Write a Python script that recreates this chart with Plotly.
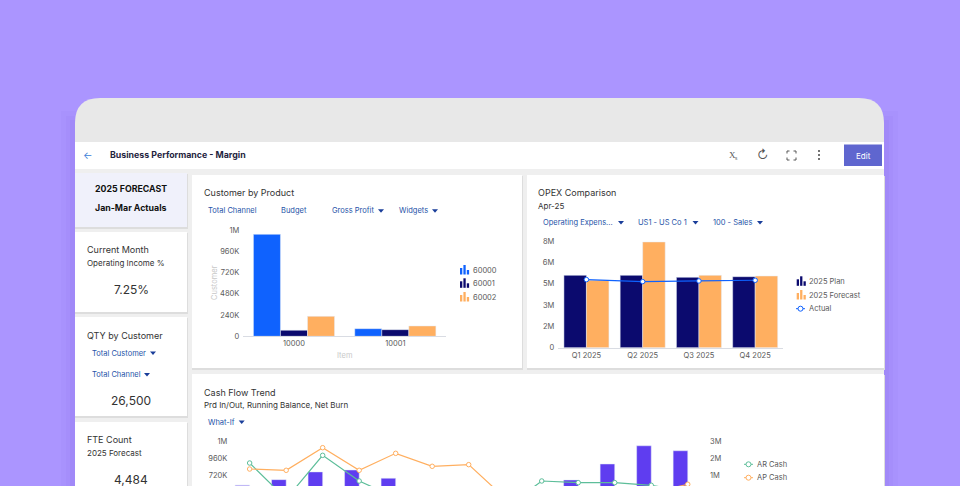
import plotly.graph_objects as go

W = 960
H = 486

# Customer by Product
items = ["10000", "10001"]
product_60000 = [1151000, 86000]
product_60001 = [68000, 75000]
product_60002 = [225000, 117000]
product_ticks = [0, 240000, 480000, 720000, 960000, 1200000]
product_ticktext = ["0", "240K", "480K", "720K", "960K", "1M"]

# OPEX Comparison
quarters = ["Q1 2025", "Q2 2025", "Q3 2025", "Q4 2025"]
plan_2025 = [5.44e6, 5.44e6, 5.29e6, 5.34e6]
forecast_2025 = [5.07e6, 7.95e6, 5.44e6, 5.39e6]
actual = [5.12e6, 4.97e6, 5.02e6, 5.07e6]
opex_ticks = [0, 1.6e6, 3.2e6, 4.8e6, 6.4e6, 8e6]
opex_ticktext = ["0", "2M", "3M", "5M", "6M", "8M"]

# Cash Flow Trend (the card is cut off by the bottom of the picture)
months = ["Jan", "Feb", "Mar", "Apr", "May", "Jun", "Jul", "Aug", "Sep", "Oct", "Nov", "Dec", "Jan+1"]
ar_cash = [897000, 395000, 1004000, 646000, 414000, 300000, 280000, 265000, 646000, 623000, 623000, 586000, 497000]
ap_cash = [813000, 795000, 1111000, 795000, 1032000, 851000, 874000, 405000, 380000, 360000, 420000, 480000, 600000]
net_flow = [0.46e6, 0.77e6, 1.22e6, 1.33e6, 0.85e6, 0.3e6, 0.3e6, 0.3e6, 0.3e6, 0.75e6, 1.68e6, 2.74e6, 2.45e6]
cash_left_ticks = [720000, 960000, 1200000]
cash_left_ticktext = ["720K", "960K", "1M"]
cash_right_ticks = [1e6, 2e6, 3e6]
cash_right_ticktext = ["1M", "2M", "3M"]

BLUE = "#0F62FE"
NAVY = "#0B0A6E"
ORANGE = "#FFAF60"
GREEN = "#5DBE9A"
PURPLE = "#5F3DF0"
LAVENDER = "#B7A9F6"
LINK = "#2553A8"
DARK = "#333333"
TICK = "#5A5A5A"
AXIS = "#D9DCE3"


def fx(x):
    return x / W


def fy(y):
    return 1 - y / H


shapes = []
annotations = []


def rect(x0, y0, x1, y1, color):
    shapes.append(dict(type="rect", xref="paper", yref="paper", x0=fx(x0), x1=fx(x1), y0=fy(y0), y1=fy(y1),
                       fillcolor=color, line_width=0, layer="below"))


def card(x0, y0, x1, y1, color="#FFFFFF"):
    # soft shadow under the card
    rect(x0, y0 + 1, x1 + 1, y1 + 2, "#DDDDDD")
    rect(x0, y0, x1, y1, color)


def text(x, y, s, size=10, color=DARK, anchor="left", bold=False, angle=0, family="Inter", **kw):
    if anchor == "left":
        x -= 1
    annotations.append(dict(x=fx(x), y=fy(y), xref="paper", yref="paper", text=s, showarrow=False,
                            xanchor=anchor, yanchor="middle", textangle=angle, borderpad=0,
                            font=dict(family=family, size=size, color=color, weight=700 if bold else 400), **kw))


def tri(x, y):
    path = f"M {fx(x - 3)} {fy(y - 1.5)} L {fx(x + 3)} {fy(y - 1.5)} L {fx(x)} {fy(y + 2)} Z"
    shapes.append(dict(type="path", xref="paper", yref="paper", path=path, fillcolor="#1A3E9A", line_width=0))


def link(x, y, s, tri_x=None):
    text(x, y, s, size=7.5, color=LINK)
    if tri_x:
        tri(tri_x, y)


def bar_icon(x, y, color):
    for dx, top in [(0, -2), (3.4, -5), (6.8, 0)]:
        shapes.append(dict(type="rect", xref="paper", yref="paper", x0=fx(x + dx), x1=fx(x + dx + 2.3),
                           y0=fy(y + 4.5), y1=fy(y + top), fillcolor=color, line_width=0))


def line_icon(x, y, color):
    shapes.append(dict(type="line", xref="paper", yref="paper", x0=fx(x), x1=fx(x + 9), y0=fy(y), y1=fy(y),
                       line=dict(color=color, width=1)))
    shapes.append(dict(type="circle", xref="paper", yref="paper", x0=fx(x + 2), x1=fx(x + 7), y0=fy(y + 2.5),
                       y1=fy(y - 2.5), fillcolor="white", line=dict(color=color, width=1)))


# page frame
r = 25
for grow, tone in [(14, "rgba(90,60,200,0.03)"), (9, "rgba(90,60,200,0.04)"), (5, "rgba(90,60,200,0.05)")]:
    rect(75 - grow, 125 - grow, 884 + grow, H, tone)
window = (f"M {fx(75)} {fy(H)} L {fx(75)} {fy(98 + r)} Q {fx(75)} {fy(98)} {fx(75 + r)} {fy(98)} "
          f"L {fx(884 - r)} {fy(98)} Q {fx(884)} {fy(98)} {fx(884)} {fy(98 + r)} L {fx(884)} {fy(H)} Z")
shapes.append(dict(type="path", xref="paper", yref="paper", path=window, fillcolor="#E8E8E8", line_width=0, layer="below"))
rect(75, 142, 884, 169, "#FFFFFF")
rect(75, 169, 884, H, "#EFEFEF")

card(75, 173, 187, 227, "#F0F1FB")
card(75, 232, 187, 312)
card(75, 317, 187, 416)
card(75, 422, 187, H)
card(192, 175, 522, 368)
card(527, 175, 884, 368)
card(192, 374, 884, H)

# top bar
text(88, 155, "←", size=10, color="#3B7DD8", anchor="center")
text(110, 155, "Business Performance - Margin", size=8.8, color="#1F2440", bold=True)
text(732, 154.5, "X", size=9, color="#555555", anchor="center", family="Liberation Serif")
text(736.5, 157.5, "s", size=6, color="#555555", anchor="center", family="Liberation Serif")
text(762, 155, "↻", size=12, color="#555555", anchor="center")
for cx, cy in [(787, 151), (796, 151), (787, 160), (796, 160)]:
    sx = 2.5 if cx == 787 else -2.5
    sy = 2.5 if cy == 151 else -2.5
    shapes.append(dict(type="path", xref="paper", yref="paper",
                       path=f"M {fx(cx + sx)} {fy(cy)} L {fx(cx)} {fy(cy)} L {fx(cx)} {fy(cy + sy)}",
                       line=dict(color="#555555", width=1)))
for dy in [-4, 0, 4]:
    shapes.append(dict(type="circle", xref="paper", yref="paper", x0=fx(818), x1=fx(820), y0=fy(156 + dy),
                       y1=fy(154 + dy), fillcolor="#444444", line_width=0))
shapes.append(dict(type="rect", xref="paper", yref="paper", x0=fx(844), x1=fx(882), y0=fy(166), y1=fy(144.5),
                   fillcolor="#5F66CF", line_width=0))
text(863, 155.5, "Edit", size=8, color="#FFFFFF", anchor="center")

# side cards
text(131, 188.7, "2025 FORECAST", size=8.8, color="#111111", anchor="center", bold=True)
text(131, 207, "Jan-Mar Actuals", size=8.8, color="#111111", anchor="center", bold=True)
text(87, 249.5, "Current Month", size=9)
text(87, 263, "Operating Income %", size=8)
text(131, 289.5, "7.25%", size=12, anchor="center")
text(87, 335, "QTY by Customer", size=9)
link(92, 353, "Total Customer", 153)
link(92, 374.5, "Total Channel", 147)
text(131, 400, "26,500", size=12, anchor="center")
text(87, 439, "FTE Count", size=9)
text(87, 452.7, "2025 Forecast", size=8)
text(131, 479, "4,484", size=12, anchor="center")

# card headings
text(204, 192, "Customer by Product", size=9)
link(208, 210.7, "Total Channel")
link(281, 210.7, "Budget")
link(331.5, 210.7, "Gross Profit", 381)
link(398.5, 210.7, "Widgets", 435)
text(538, 192, "OPEX Comparison", size=9)
text(538, 205.7, "Apr-25", size=8)
link(542.7, 222.5, "Operating Expens...", 621)
link(638, 222.5, "US1 - US Co 1", 695.5)
link(713, 222.5, "100 - Sales", 760)
text(204, 392, "Cash Flow Trend", size=9)
text(204, 405, "Prd In/Out, Running Balance, Net Burn", size=8)
link(208, 422, "What-If", 241.7)

# axis titles
text(214, 283, "Customer", size=7.5, color="#C8C8C8", anchor="center", angle=-90)
text(344, 355, "Item", size=7.5, color="#C8C8C8", anchor="center")

# legends
for y, name, color in [(270, "60000", BLUE), (283.3, "60001", NAVY), (297, "60002", ORANGE)]:
    bar_icon(460, y, color)
    text(472.7, y, name, size=7.5, color=TICK)
for y, name, color in [(281.3, "2025 Plan", NAVY), (295, "2025 Forecast", ORANGE)]:
    bar_icon(796.7, y, color)
    text(808.7, y, name, size=7.5, color=TICK)
line_icon(796, 308.7, BLUE)
text(808.7, 308.7, "Actual", size=7.5, color=TICK)
for y, name, color in [(464.3, "AR Cash", GREEN), (477.7, "AP Cash", ORANGE)]:
    line_icon(744, y, color)
    text(756.7, y, name, size=7.5, color=TICK)

fig = go.Figure()

fig.add_bar(x=items, y=product_60000, name="60000", marker_color=BLUE, xaxis="x", yaxis="y")
fig.add_bar(x=items, y=product_60001, name="60001", marker_color=NAVY, xaxis="x", yaxis="y")
fig.add_bar(x=items, y=product_60002, name="60002", marker_color=ORANGE, xaxis="x", yaxis="y")

fig.add_bar(x=quarters, y=plan_2025, name="2025 Plan", marker_color=NAVY, xaxis="x2", yaxis="y2")
fig.add_bar(x=quarters, y=forecast_2025, name="2025 Forecast", marker_color=ORANGE, xaxis="x2", yaxis="y2")
fig.add_scatter(x=quarters, y=actual, name="Actual", mode="lines+markers", xaxis="x2", yaxis="y2",
                line=dict(color=BLUE, width=1.2),
                marker=dict(size=4.5, color="white", line=dict(color=BLUE, width=1)))

# bars sit left of the month centre, where the line points are
fig.add_bar(x=months, y=net_flow, name="Net", width=0.4, offset=-0.4, xaxis="x3", yaxis="y3",
            marker_color=[LAVENDER] + [PURPLE] * (len(months) - 1))
fig.add_scatter(x=months, y=ar_cash, name="AR Cash", mode="lines+markers", xaxis="x3", yaxis="y4",
                line=dict(color=GREEN, width=1.2),
                marker=dict(size=4.5, color="white", line=dict(color=GREEN, width=1)))
fig.add_scatter(x=months, y=ap_cash, name="AP Cash", mode="lines+markers", xaxis="x3", yaxis="y4",
                line=dict(color=ORANGE, width=1.2),
                marker=dict(size=4.5, color="white", line=dict(color=ORANGE, width=1)))

tick_font = dict(family="Inter", size=7.5, color=TICK)


def x_axis(x0, x1, y_anchor, n, visible=True):
    return dict(domain=[fx(x0), fx(x1)], anchor=y_anchor, type="category", range=[-0.5, n - 0.5], showgrid=False,
                zeroline=False, showline=visible, linecolor=AXIS, linewidth=1, ticks="", tickfont=tick_font,
                visible=visible, fixedrange=True)


def y_axis(y0, y1, rng, vals, labels, **kw):
    return dict(domain=[fy(y1), fy(y0)], range=rng, tickvals=vals, ticktext=labels, showgrid=False,
                zeroline=False, showline=False, ticks="", tickfont=tick_font, ticklabelstandoff=3, automargin=False, **kw)


fig.update_layout(
    width=W,
    height=H,
    margin=dict(l=0, r=0, t=0, b=0, autoexpand=False),
    paper_bgcolor="#AB95FF",
    plot_bgcolor="rgba(0,0,0,0)",
    showlegend=False,
    barmode="group",
    bargap=0.2,
    bargroupgap=0,
    shapes=shapes,
    annotations=annotations,
    xaxis=x_axis(243.3, 446, "y", len(items)),
    yaxis=y_axis(230, 336.3, [0, 1200000], product_ticks, product_ticktext, anchor="x"),
    xaxis2=x_axis(558.3, 783.3, "y2", len(quarters)),
    yaxis2=y_axis(241.3, 347.7, [0, 8e6], opex_ticks, opex_ticktext, anchor="x2"),
    xaxis3=x_axis(231.4, 706, "y3", len(months), visible=False),
    yaxis3=y_axis(441.3, 486, [0.4e6, 3e6], cash_right_ticks, cash_right_ticktext, anchor="x3", side="right"),
    yaxis4=y_axis(441.3, 486, [576000, 1200000], cash_left_ticks, cash_left_ticktext, anchor="x3", side="left",
                  overlaying="y3"),
)

# the page's default body margin would push the figure 8px in
fig.write_html("out.html", config={"displayModeBar": False},
               post_script="document.body.style.margin='0';document.body.style.overflow='hidden';")
